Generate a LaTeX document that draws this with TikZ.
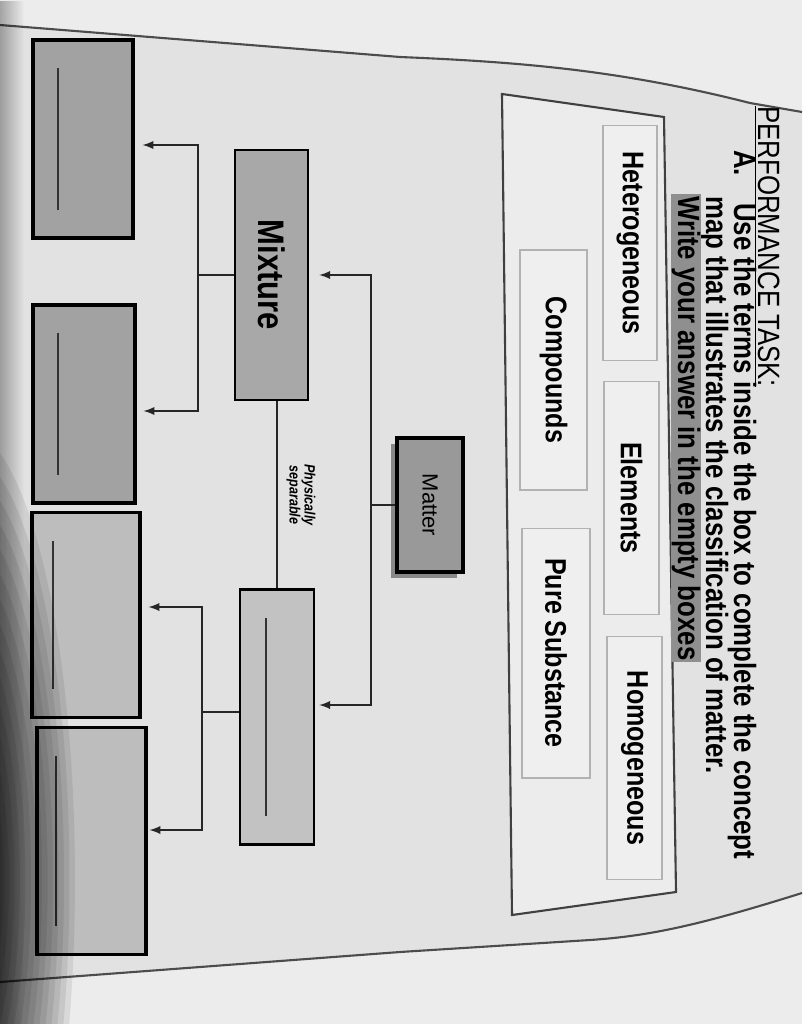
\documentclass[tikz,border=0pt]{standalone}
\usepackage{fontspec}
\setmainfont{Liberation Sans}
\newfontfamily\narrowfont[FakeStretch=0.84]{Liberation Sans}
\usetikzlibrary{calc,shadows,fadings}

\definecolor{paper}{HTML}{E2E2E2}
\definecolor{sheet}{HTML}{ECECEC}
\definecolor{darkbox}{HTML}{A2A2A2}
\definecolor{midbox}{HTML}{A8A8A8}
\definecolor{lightbox}{HTML}{C2C2C2}
\definecolor{matterbox}{HTML}{999999}
\definecolor{cardwhite}{HTML}{EFEFEF}

\tikzfading[name=sidefade, left color=transparent!0, right color=transparent!100]

\tikzset{
  answerbox/.style={draw, line width=1.8pt, fill=darkbox, inner sep=0pt},
  classbox/.style={draw, line width=1.5pt, fill=midbox, inner sep=0pt,
    font=\narrowfont\bfseries\fontsize{21}{21}\selectfont},
  termcard/.style={draw=gray!60, line width=0.6pt, fill=cardwhite, inner sep=0pt,
    font=\narrowfont\bfseries\fontsize{17}{17}\selectfont},
  gapline/.style={line width=1.2pt, black!80},
  link/.style={line width=1.1pt, black!85},
  edge line/.style={line width=1.2pt, black!70},
  taskline/.style={rotate=-90, anchor=base west, inner sep=0pt,
    font=\narrowfont\bfseries\fontsize{17.5}{17.5}\selectfont},
}

\begin{document}
\begin{tikzpicture}[x=0.02cm, y=-0.02cm, >=latex]
\useasboundingbox (0,0) rectangle (802,1024);
\fill[sheet] (0,0) rectangle (802,1024);
\fill[paper] (0,25) -- (400,57) .. controls (520,62) and (620,70) .. (750,103) -- (802,112)
  -- (802,893) .. controls (700,925) and (650,936) .. (590,940) -- (400,952) -- (0,982) -- cycle;
\draw[edge line] (0,25) -- (400,57) .. controls (520,62) and (620,70) .. (750,103) -- (802,112);
\draw[edge line] (802,893) .. controls (700,925) and (650,936) .. (590,940) -- (400,952) -- (0,982);
\fill[black, path fading=sidefade, opacity=0.3] (0,0) rectangle (24,1024);

% answer boxes on the left
\node[answerbox, minimum width=2cm, minimum height=3.96cm] (b1) at (83,139) {};
\node[answerbox, minimum width=2.04cm, minimum height=3.96cm] (b2) at (84,404) {};
\node[answerbox, fill=lightbox!85!darkbox, minimum width=2.16cm, minimum height=4.1cm] (b3) at (86,615) {};
\node[answerbox, fill=lightbox!85!darkbox, minimum width=2.18cm, minimum height=4.54cm] (b4) at (91.5,841) {};

% middle column
\node[classbox, minimum width=1.46cm, minimum height=5cm] (mix) at (271.5,275) {\rotatebox{-90}{Mixture}};
\node[classbox, fill=lightbox, minimum width=1.48cm, minimum height=5.1cm] (pure) at (277,717) {};
\node[classbox, fill=matterbox, line width=1.8pt, font=\fontsize{12.5}{12.5}\selectfont,
  drop shadow={shadow xshift=-0.12cm, shadow yshift=-0.12cm, fill=black!70, opacity=0.6},
  minimum width=1.32cm, minimum height=2.68cm] (matter) at (430,505) {\rotatebox{-90}{Matter}};
\node[rotate=-90, align=center, inner sep=0pt,
  font=\narrowfont\bfseries\itshape\fontsize{8.5}{8.5}\selectfont] (sep) at (301,495) {Physically\\separable};

\foreach \b/\dx in {b1/27, b2/27, b3/23, b4/21, pure/27}
  \draw[gapline] ($(\b.north west)+(\dx,30)$) -- ($(\b.south west)+(\dx,-30)$);

% connectors
\draw[link] (matter.west) -- ++(-24,0) coordinate (mj);
\draw[link,->,shorten >=0.2cm] (mj) |- (mix.east);
\draw[link,->,shorten >=0.08cm] (mj) |- ([yshift=0.24cm]pure.east);
\draw[link] (mix.west) -- ++(-36,0) coordinate (xj);
\draw[link,->,shorten >=0.16cm] (xj) |- ([yshift=-0.12cm]b1.east);
\draw[link,->,shorten >=0.14cm] (xj) |- ([yshift=-0.14cm]b2.east);
\draw[link] ([yshift=0.1cm]pure.west) -- ++(-37,0) coordinate (pj);
\draw[link,->,shorten >=0.14cm] (pj) |- ([yshift=0.16cm]b3.east);
\draw[link,->,shorten >=0.04cm] (pj) |- ([yshift=0.22cm]b4.east);
\draw[link] (pure.north |- mix.south) -- (pure.north);

% word bank
\draw[line width=1.2pt, black!75, fill=sheet] (502,94) -- (664,117) -- (676,892) -- (512,915) -- cycle;
\node[termcard, minimum width=1.08cm, minimum height=4.7cm] (het) at (630,243) {\rotatebox{-90}{Heterogeneous}};
\node[termcard, minimum width=1.1cm, minimum height=4.66cm] (elem) at (631.5,498) {\rotatebox{-90}{Elements}};
\node[termcard, minimum width=1.1cm, minimum height=4.86cm] (homo) at (634.5,758) {\rotatebox{-90}{Homogeneous}};
\node[termcard, minimum width=1.34cm, minimum height=4.8cm] (comp) at (553.5,370) {\rotatebox{-90}{Compounds}};
\node[termcard, minimum width=1.36cm, minimum height=5cm] (subst) at (556,653) {\rotatebox{-90}{Pure Substance}};

% task text
\node[taskline, font=\narrowfont\fontsize{17.5}{17.5}\selectfont] (title) at (758,106) {\underline{PERFORMANCE TASK:}};
\node[taskline] (itemA) at (734,150) {A.};
\node[taskline] (line1) at (734,203) {Use the terms inside the box to complete the concept};
\node[taskline] (line2) at (706,196) {map that illustrates the classification of matter.};
\node[taskline, fill=black!44, inner xsep=1pt, inner ysep=0.5pt] (line3) at (678,194) {Write your answer in the empty boxes};

% shadow of the hand at the lower left
\foreach \r in {1,...,20}
  \fill[black, opacity=0.08] (-35,880) ellipse [x radius=\r*0.11cm, y radius=\r*0.45cm];
\end{tikzpicture}
\end{document}
